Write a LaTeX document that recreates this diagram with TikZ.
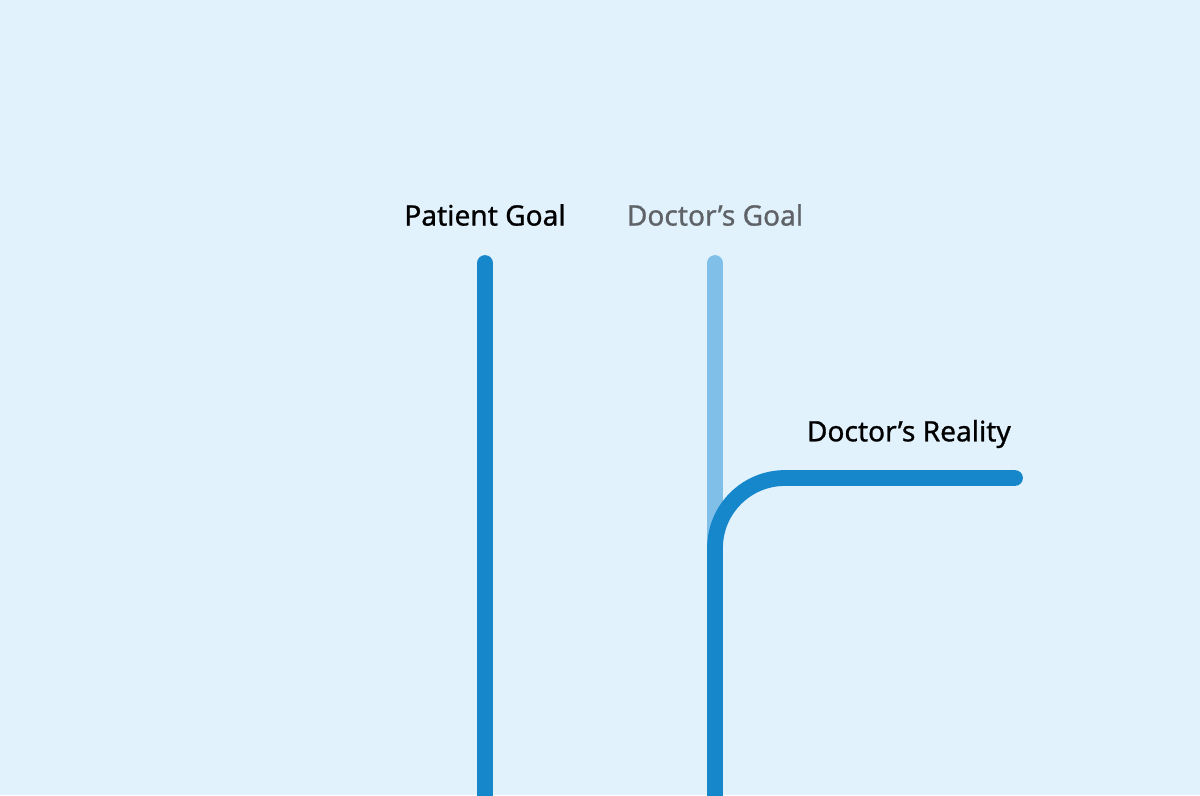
\documentclass[tikz,border=0pt]{standalone}
\usepackage{fontspec}
\setmainfont{Noto Sans}
\newfontfamily\labelfont[FakeBold=0.9]{Noto Sans}
\usepackage{xcolor}
\definecolor{bgblue}{HTML}{E1F2FD}
\definecolor{lineblue}{HTML}{1787CC}
\definecolor{paleblue}{HTML}{7FBFE8}
\definecolor{goalgray}{HTML}{5F6368}
\tikzset{
  track/.style={line width=9pt, line cap=round, color=lineblue},
  lbl/.style={font=\labelfont\fontsize{16}{20}\selectfont\bfseries}
}

\begin{document}
\begin{tikzpicture}[x=0.02cm,y=-0.02cm]
    % Background
    \fill[bgblue] (0,0) rectangle (1200,795);
    \useasboundingbox (0,0) rectangle (1200,795);

    % Labels
    \node[lbl] (patient) at (485,215) {Patient Goal};
    \node[lbl,text=goalgray] (doctor) at (715,215) {Doctor’s Goal};
    \node[lbl,anchor=east] (reality) at (1017,434) {Doctor’s Reality};

    % Track ends
    \coordinate (ptop) at (485,263);
    \coordinate (pbot) at (485,800);
    \coordinate (dtop) at (715,263);
    \coordinate (dturn) at (715,548);
    \coordinate (dbot) at (715,800);
    \coordinate (rend) at (1015,478);

    % Tracks
    \draw[track,color=paleblue] (dtop) -- (dturn);
    \draw[track] (ptop) -- (pbot);
    \draw[track,rounded corners=1.4cm] (dbot) -- (715,478) -- (rend);
\end{tikzpicture}
\end{document}
